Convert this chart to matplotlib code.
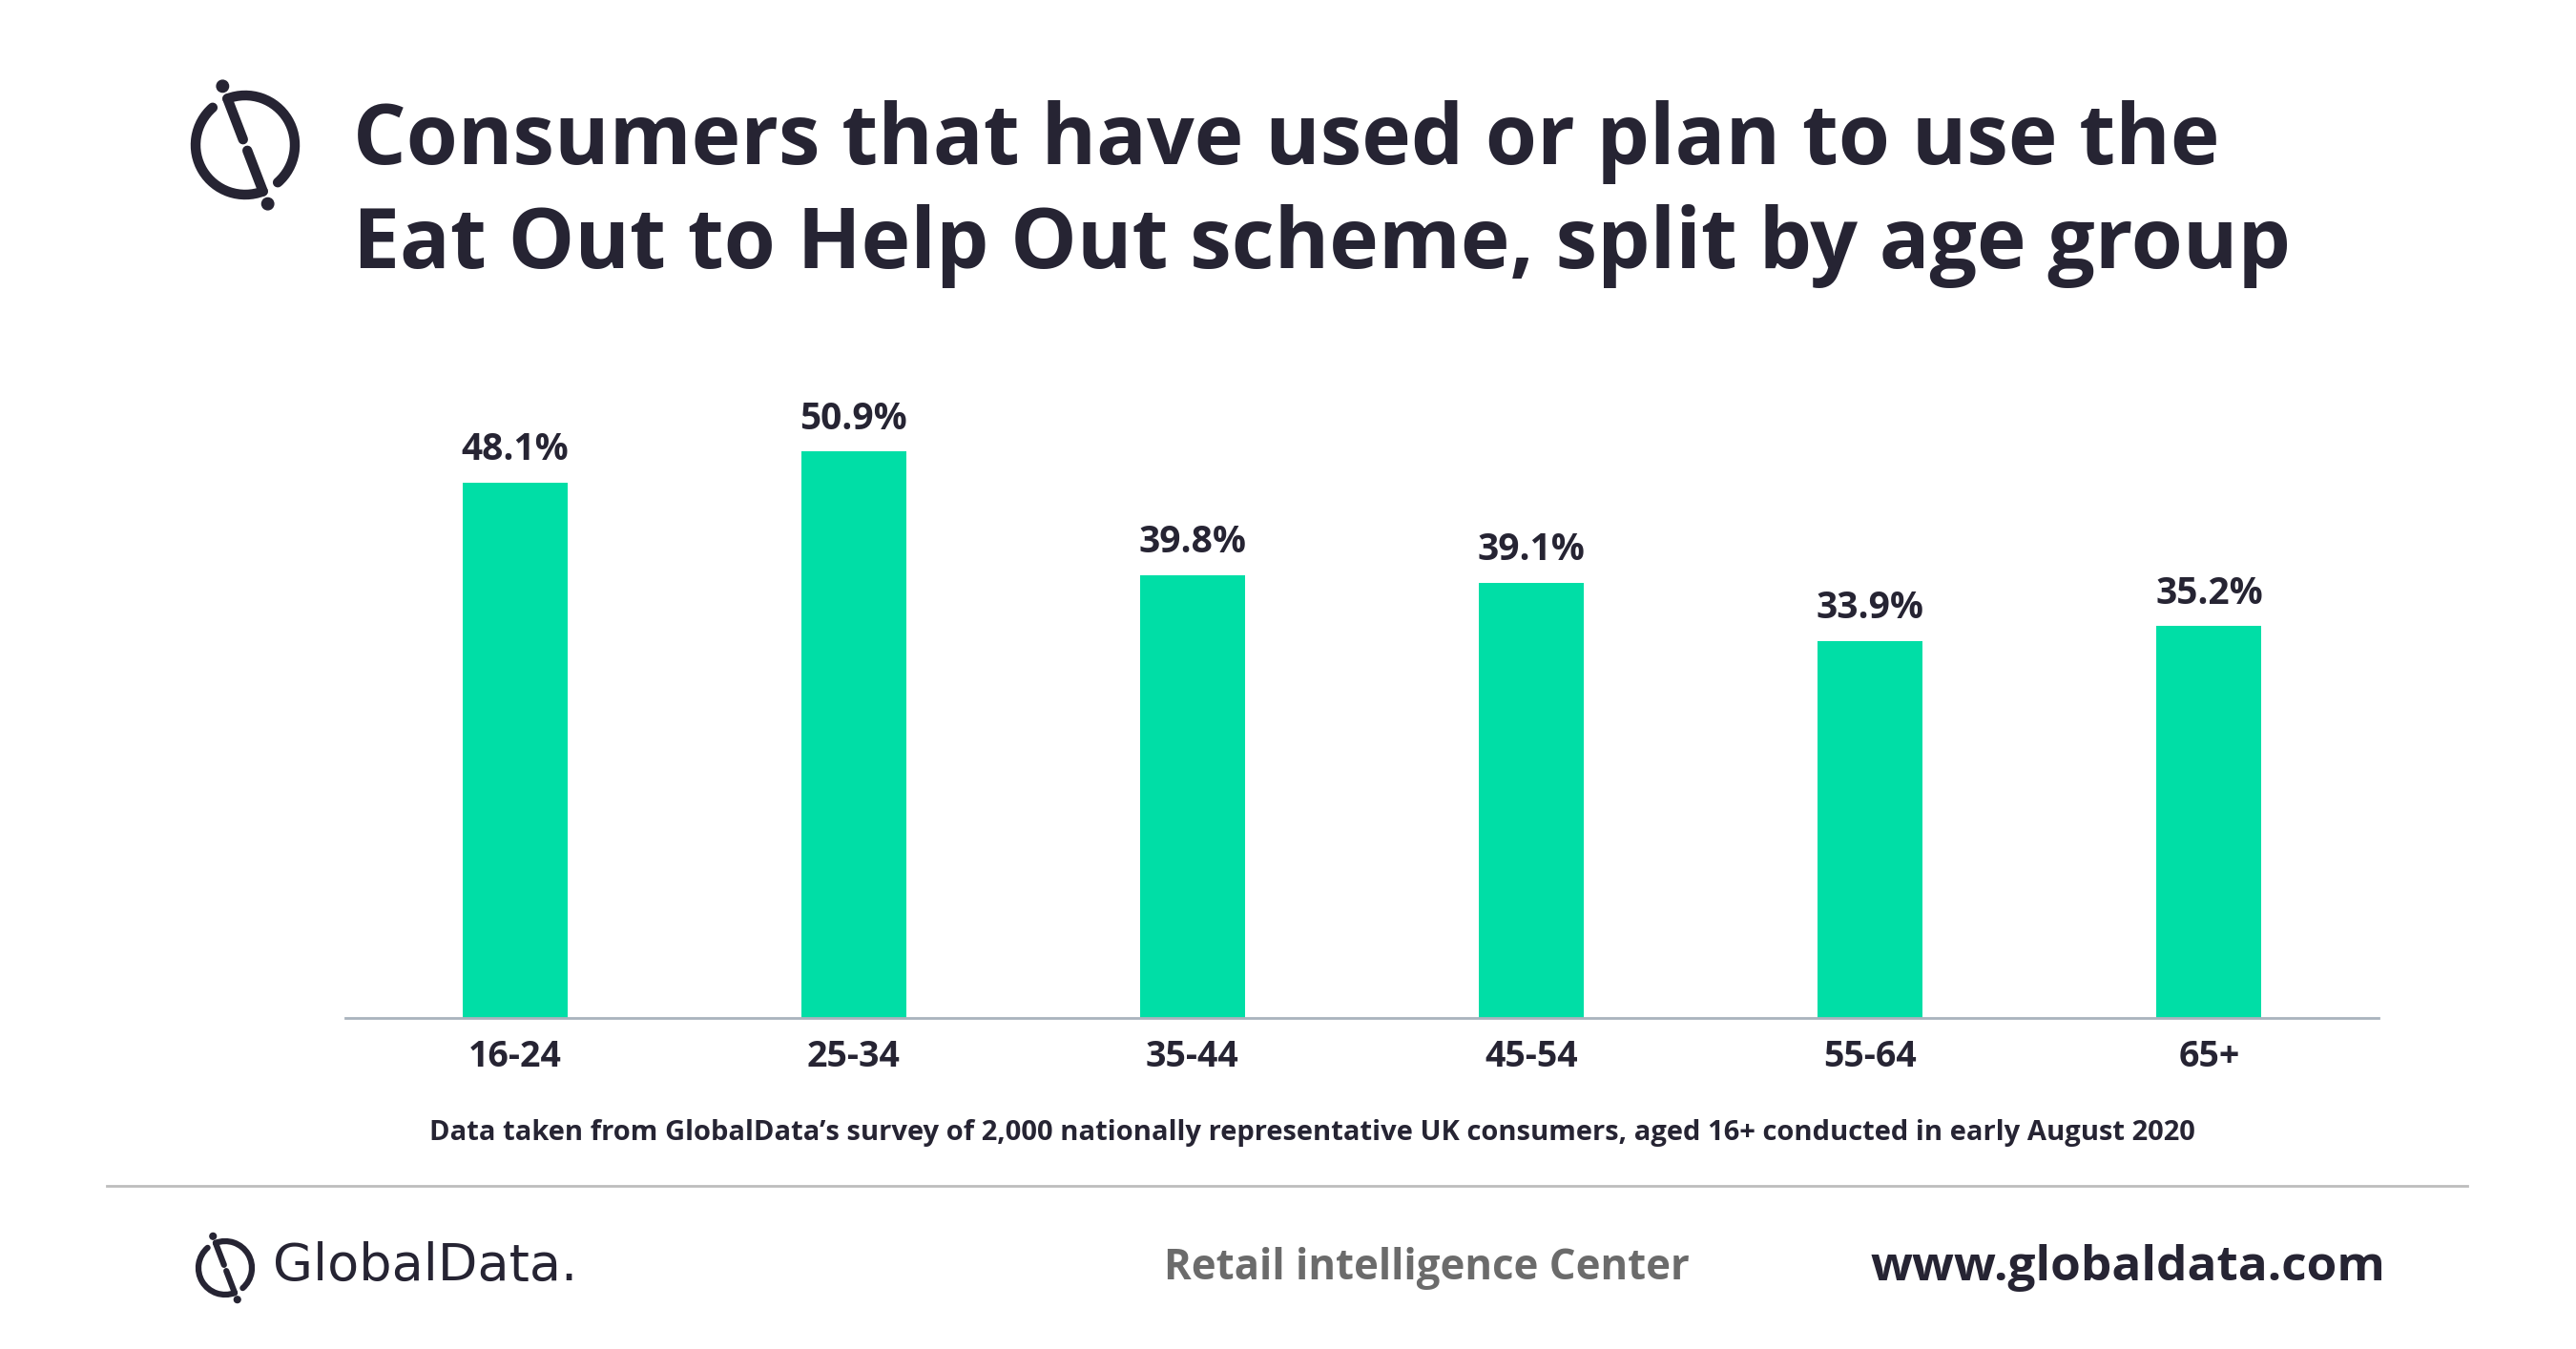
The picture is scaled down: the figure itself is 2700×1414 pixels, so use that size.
import matplotlib
matplotlib.use("Agg")
import matplotlib.pyplot as plt
import numpy as np
from matplotlib.patches import Arc, Circle

# ------------------- DATA -------------------
age_groups = ["16-24", "25-34", "35-44", "45-54", "55-64", "65+"]
share_pct = [48.1, 50.9, 39.8, 39.1, 33.9, 35.2]

title_lines = ["Consumers that have used or plan to use the",
               "Eat Out to Help Out scheme, split by age group"]
footnote = ("Data taken from GlobalData\u2019s survey of 2,000 nationally representative "
            "UK consumers, aged 16+ conducted in early August 2020")

# ------------------- STYLE -------------------
W, H = 2700, 1414
DARK = "#262433"
GREEN = "#00DEA6"
FONT = ["Open Sans", "DejaVu Sans"]
plt.rcParams["font.family"] = FONT


def fx(px):
    return px / W


def fy(py):
    return 1 - py / H


def draw_logo(fig, cx, cy, r, lw):
    # logo drawn in its own square axes, units = pixels around the centre
    size = r * 2.8
    ax = fig.add_axes([fx(cx - size / 2), fy(cy + size / 2), size / W, size / H])
    ax.set_xlim(-size / 2, size / 2)
    ax.set_ylim(-size / 2, size / 2)
    ax.set_aspect("equal")
    ax.axis("off")
    ang = np.deg2rad(111)
    d = np.array([np.cos(ang), np.sin(ang)])
    for sgn, (a1, a2) in [(1, (-49, 111)), (-1, (131, 291))]:
        ax.add_patch(Arc((0, 0), 2 * r, 2 * r, theta1=a1, theta2=a2,
                         lw=lw, color=DARK, capstyle="round"))
        p_out = sgn * d * r
        p_in = sgn * d * r * 0.12
        ax.plot([p_out[0], p_in[0]], [p_out[1], p_in[1]], color=DARK, lw=lw,
                solid_capstyle="round")
        dot = sgn * d * r * 1.27
        ax.add_patch(Circle(dot, r * 0.12, color=DARK))


fig = plt.figure(figsize=(27, 14.14), dpi=100)

# ------------------- HEADER -------------------
draw_logo(fig, 257, 152, 52, 7.5)
fig.text(fx(370), fy(172), title_lines[0], fontsize=63, fontweight="bold",
         color=DARK, va="baseline", ha="left")
fig.text(fx(370), fy(281), title_lines[1], fontsize=63, fontweight="bold",
         color=DARK, va="baseline", ha="left")

# ------------------- BAR CHART -------------------
ax = fig.add_axes([fx(362), fy(1067), fx(2493 - 362), (1067 - 367) / H])
x = np.arange(len(age_groups))
bars = ax.bar(x, share_pct, width=0.31, color=GREEN)
ax.set_xlim(-0.5, len(age_groups) - 0.5)
ax.set_ylim(0, 60)
ax.set_xticks(x)
ax.set_xticklabels(age_groups, fontsize=27, fontweight="bold", color=DARK)
ax.tick_params(axis="x", length=0, pad=16)
ax.set_yticks([])
for side in ["top", "left", "right"]:
    ax.spines[side].set_visible(False)
ax.spines["bottom"].set_color("#A9B3BD")
ax.spines["bottom"].set_linewidth(2)

for rect, v in zip(bars, share_pct):
    ax.annotate(f"{v:.1f}%", xy=(rect.get_x() + rect.get_width() / 2, v),
                xytext=(0, 17), textcoords="offset points",
                ha="center", va="baseline", fontsize=28, fontweight="bold",
                color=DARK)

fig.text(fx(1375), fy(1188), footnote, fontsize=21, fontweight="bold",
         color=DARK, ha="center", va="center")

# ------------------- FOOTER -------------------
fig.add_artist(plt.Line2D([fx(112), fx(2586)], [fy(1243), fy(1243)],
                          color="#BDBDBD", lw=2))
draw_logo(fig, 236, 1329, 28, 4.5)
fig.text(fx(286), fy(1342), "GlobalData.", fontsize=39, color=DARK,
         family=["DejaVu Sans"], ha="left", va="baseline")
fig.text(fx(1495), fy(1329), "Retail intelligence Center", fontsize=31.5,
         fontweight="bold", color="#6B6B6B", ha="center", va="center")
fig.text(fx(2500), fy(1329), "www.globaldata.com", fontsize=37,
         fontweight="bold", color=DARK, ha="right", va="center")

fig.savefig("out.png", dpi=100, facecolor="white")
